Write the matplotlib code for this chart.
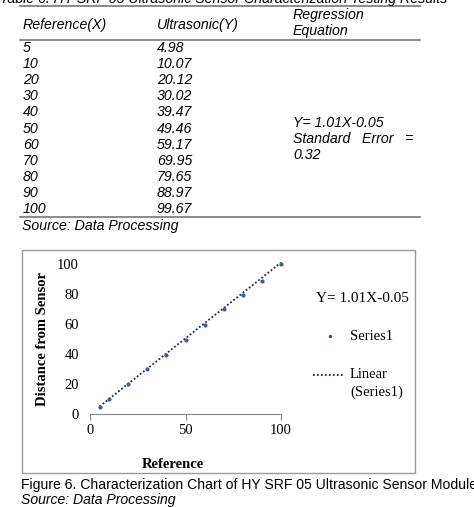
import matplotlib
matplotlib.use("Agg")
import matplotlib.pyplot as plt
import numpy as np
from matplotlib.lines import Line2D
from matplotlib.patches import Rectangle

reference = [5, 10, 20, 30, 40, 50, 60, 70, 80, 90, 100]
ultrasonic = [4.98, 10.07, 20.12, 30.02, 39.47, 49.46, 59.17, 69.95, 79.65, 88.97, 99.67]
ref_labels = ["5", "10", "20", "30", "40", "50", "60", "70", "80", "90", "100"]
ult_labels = ["4.98", "10.07", "20.12", "30.02", "39.47", "49.46", "59.17", "69.95", "79.65", "88.97", "99.67"]
slope, intercept = 1.01, -0.05

W, H = 474, 507
fig = plt.figure(figsize=(W / 100, H / 100), dpi=100)
sans = "Liberation Sans"
serif = "Liberation Serif"


def t(x, y, s, **kw):
    # pixel coordinates, y measured from top
    kw.setdefault("family", sans)
    kw.setdefault("fontsize", 10.2)
    kw.setdefault("va", "center")
    fig.text(x / W, 1 - y / H, s, **kw)


def hline(y, x0=20, x1=420):
    fig.add_artist(Line2D([x0 / W, x1 / W], [1 - y / H] * 2, color="#777777", lw=1.2))


# ---- table (caption line is cut off at the top in the source) ----
t(0, -1, "Table 6. HY SRF 05 Ultrasonic Sensor Characterization Testing Results", style="italic")
hline(6)
t(23, 25, "Reference(X)", style="italic")
t(157, 25, "Ultrasonic(Y)", style="italic")
t(293, 15, "Regression", style="italic")
t(293, 31, "Equation", style="italic")
hline(40)
for i, (a, b) in enumerate(zip(ref_labels, ult_labels)):
    y = 48 + i * 16.1
    t(23, y, a, style="italic")
    t(157, y, b, style="italic")
t(293, 123, "Y= 1.01X-0.05", style="italic")
t(293, 139, "Standard   Error   =", style="italic")
t(293, 155, "0.32", style="italic")
hline(217)
t(22, 226, "Source: Data Processing", style="italic")

# ---- chart box ----
fig.add_artist(Rectangle((22 / W, 1 - 473 / H), (415 - 22) / W, (473 - 250) / H,
                         fill=False, edgecolor="#999999", lw=1.0, transform=fig.transFigure))

ax = fig.add_axes([90 / W, 1 - 414 / H, 191 / W, 150 / H])
ax.scatter(reference, ultrasonic, s=4, color="#3a5f9e", zorder=3, clip_on=False)
xs = np.array([min(reference), max(reference)])
ax.plot(xs, slope * xs + intercept, ls=(0, (1, 1.2)), color="#1a2a50", lw=1.3, clip_on=False)
ax.set_xlim(0, 100)
ax.set_ylim(0, 100)
ax.set_xticks([0, 50, 100])
ax.set_yticks([0, 20, 40, 60, 80, 100])
for s in ["top", "right", "left"]:
    ax.spines[s].set_visible(False)
ax.spines["bottom"].set_color("#888888")
ax.tick_params(axis="x", length=4, color="#888888", labelsize=10.5)
ax.tick_params(axis="y", length=0, labelsize=10.5, pad=8)
for lab in ax.get_xticklabels() + ax.get_yticklabels():
    lab.set_family(serif)
ax.set_ylabel("Distance from Sensor", family=serif, fontweight="bold", fontsize=10.5, labelpad=6)

t(173, 465, "Reference", family=serif, fontweight="bold", fontsize=10.5, ha="center")
t(316, 298, "Y= 1.01X-0.05", family=serif, fontsize=11)
fig.add_artist(Line2D([330 / W], [1 - 336 / H], marker="o", ms=1.5, color="#8b3a3a"))
t(350, 336, "Series1", family=serif, fontsize=10.5)
fig.add_artist(Line2D([313 / W, 343 / W], [1 - 375 / H] * 2, ls=(0, (1, 1.2)), color="#1a2a50", lw=1.3))
t(350, 375, "Linear", family=serif, fontsize=10.5)
t(350, 392, "(Series1)", family=serif, fontsize=10.5)

t(21, 485, "Figure 6. Characterization Chart of HY SRF 05 Ultrasonic Sensor Module", fontsize=10.1)
t(21, 500, "Source: Data Processing", style="italic", fontsize=10.1)

fig.savefig("out.png", dpi=100)
